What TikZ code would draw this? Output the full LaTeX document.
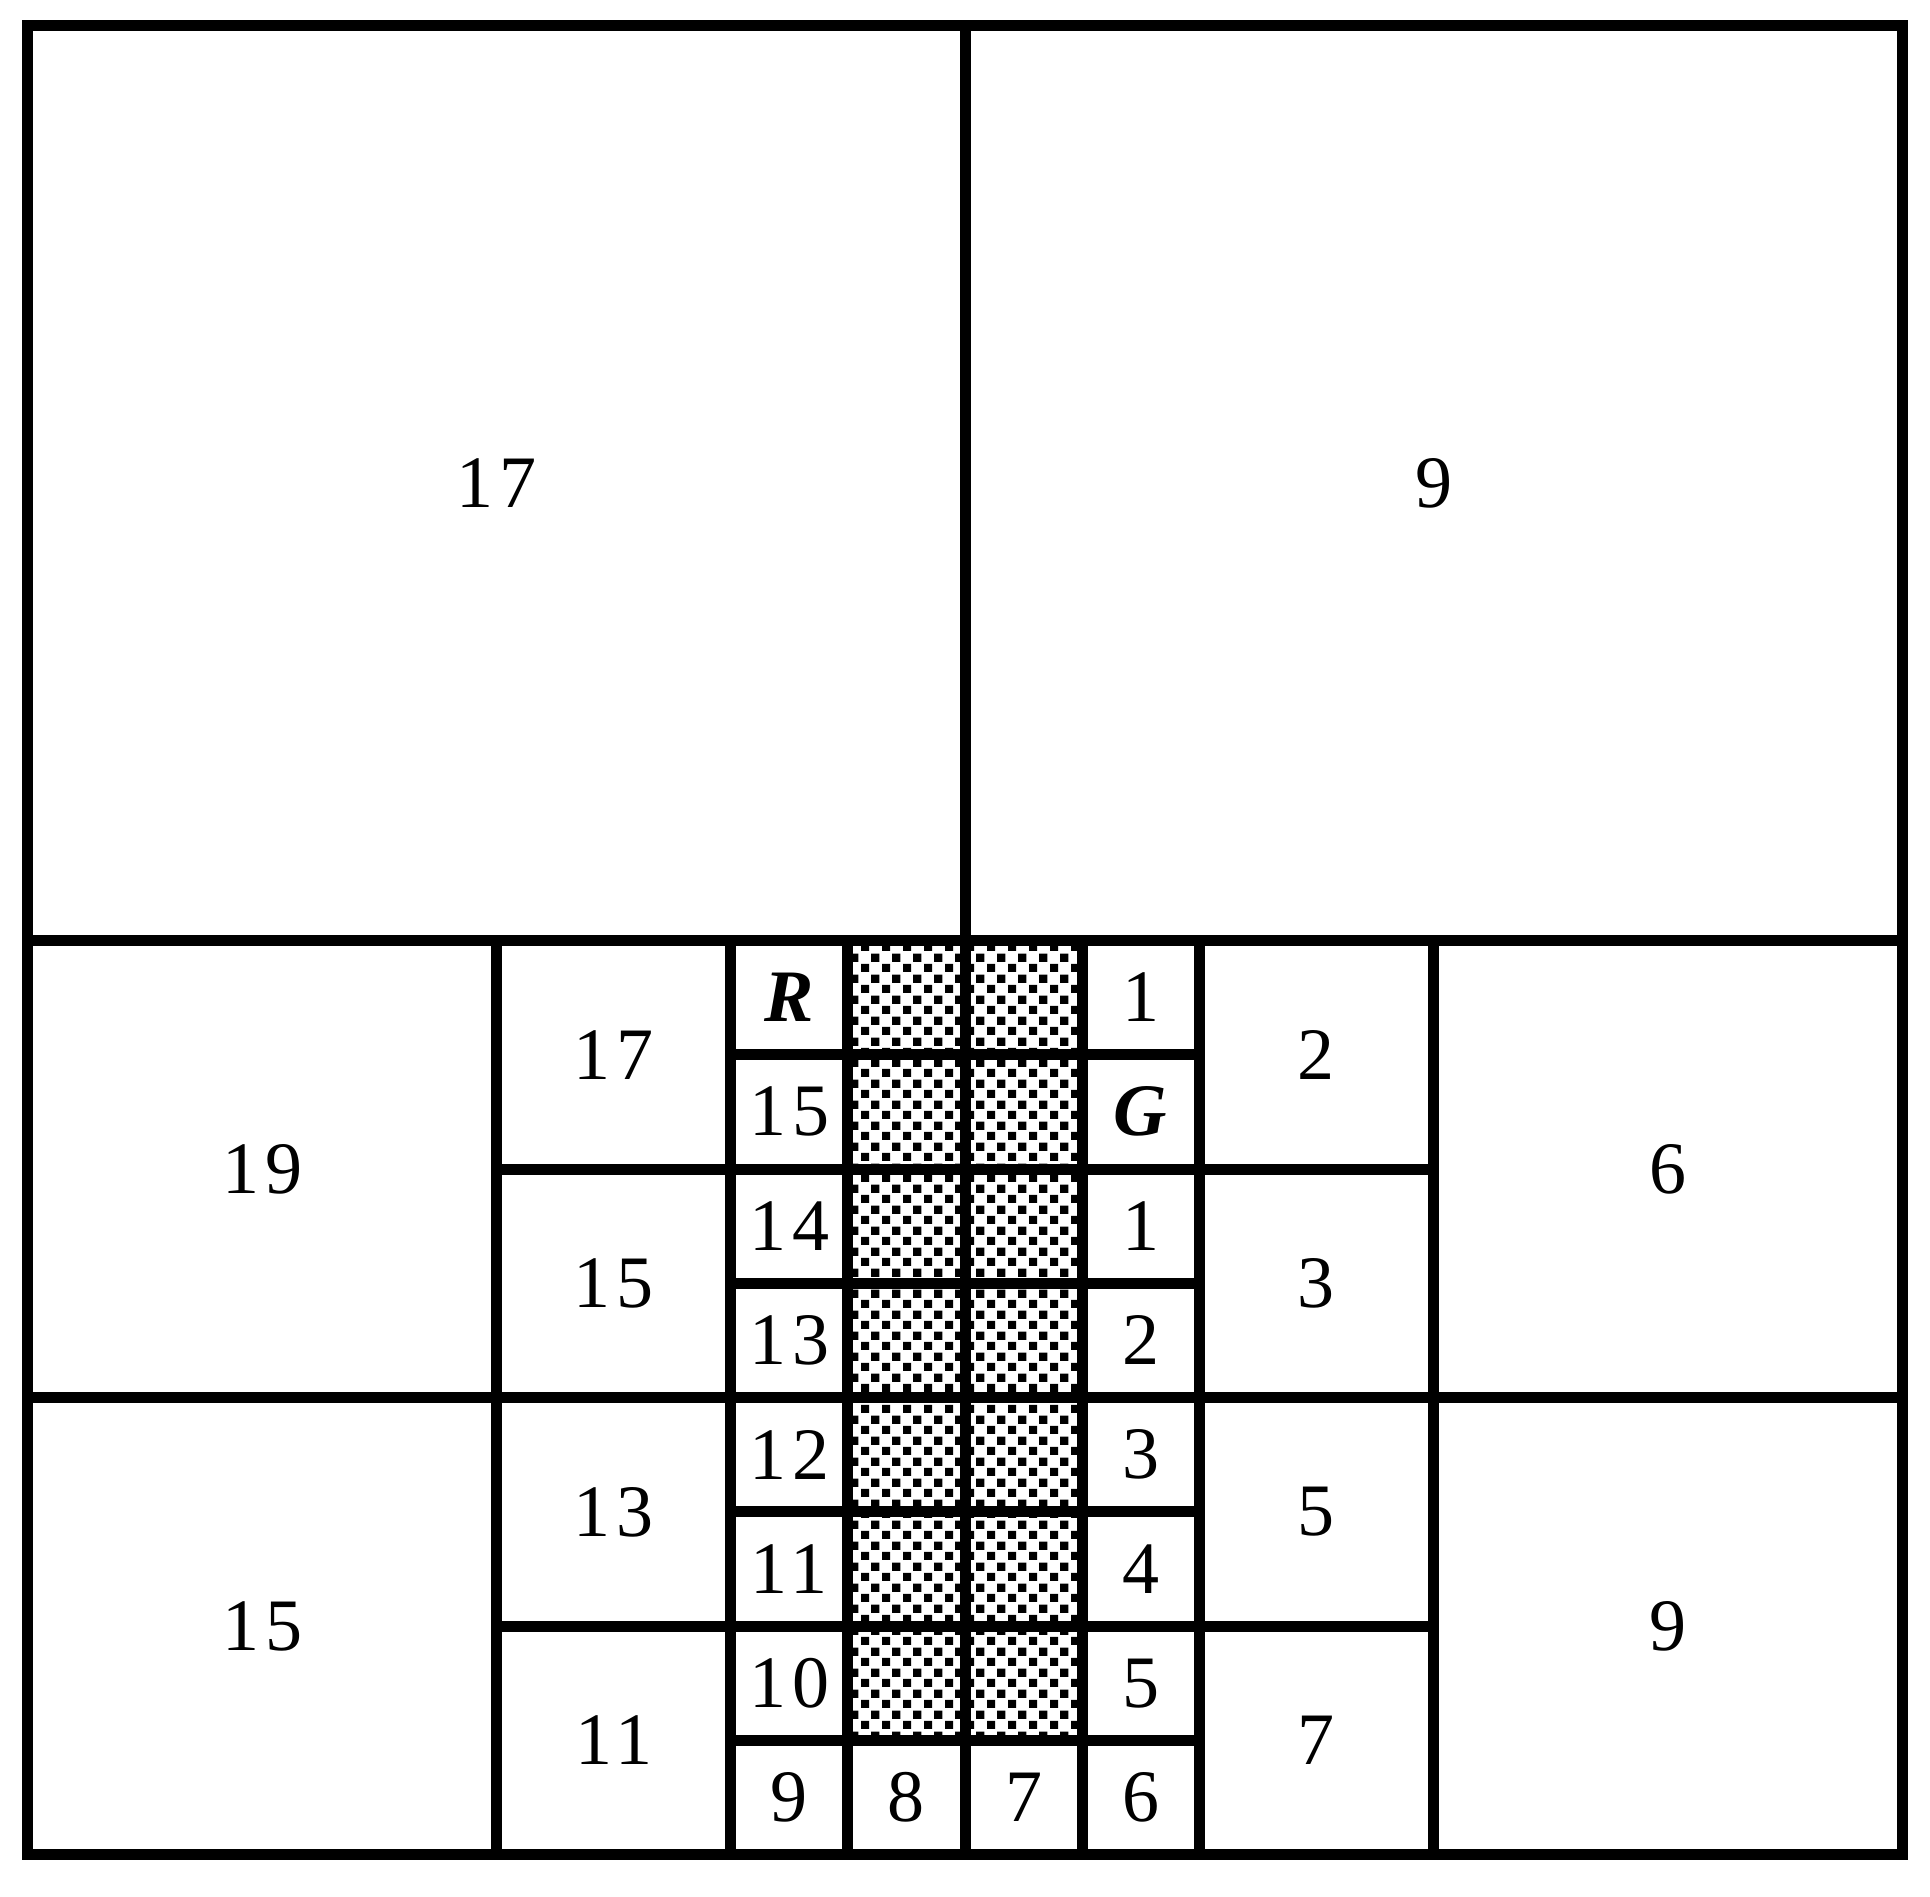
\documentclass[tikz,border=0pt]{standalone}
\usepackage{fontspec}
\setmainfont{Liberation Serif}[LetterSpace=8]
\usetikzlibrary{patterns.meta}
\tikzdeclarepattern{
  name=qdots,
  type=uncolored,
  bounding box={(0pt,0pt) and (21pt,21pt)},
  tile size={(21pt,21pt)},
  code={
    \pgfpathrectangle{\pgfpoint{0pt}{0pt}}{\pgfpoint{8.5pt}{8.5pt}}
    \pgfpathrectangle{\pgfpoint{10.5pt}{10.5pt}}{\pgfpoint{8.5pt}{8.5pt}}
    \pgfusepath{fill}
  }
}
\tikzset{
  cellbox/.style={draw=black, line width=11pt, inner sep=0pt, outer sep=0pt,
    font=\fontsize{74}{74}\selectfont, text=black},
  shadedbox/.style={cellbox, pattern=qdots, pattern color=black},
  letterbox/.style={cellbox, font=\fontsize{74}{74}\selectfont\bfseries\itshape}
}
% [style]{name}{x}{y}{w}{h}{label}  (grid units, y downward)
\newcommand\qcell[7][cellbox]{%
  \node[#1, minimum width={#5*117.125pt}, minimum height={#6*114.3pt}]
    (#2) at ({#3+#5/2},{#4+#6/2}) {#7};}
\begin{document}
\begin{tikzpicture}[x=117.125pt, y=-114.3pt]
\useasboundingbox (-0.23906,-0.22747) rectangle (16.2391,16.3605);
% shaded cells
\foreach \r in {8,...,14}{
  \qcell[shadedbox]{sa\r}{7}{\r}{1}{1}{}
  \qcell[shadedbox]{sb\r}{8}{\r}{1}{1}{}
}
% top quadrants
\qcell{top17}{0}{0}{8}{8}{17}
\qcell{top9}{8}{0}{8}{8}{9}
% left big
\qcell{left19}{0}{8}{4}{4}{19}
\qcell{left15}{0}{12}{4}{4}{15}
% second column
\qcell{c17}{4}{8}{2}{2}{17}
\qcell{c15}{4}{10}{2}{2}{15}
\qcell{c13}{4}{12}{2}{2}{13}
\qcell{c11}{4}{14}{2}{2}{11}
% R column
\qcell[letterbox]{rR}{6}{8}{1}{1}{R}
\qcell{r15}{6}{9}{1}{1}{15}
\qcell{r14}{6}{10}{1}{1}{14}
\qcell{r13}{6}{11}{1}{1}{13}
\qcell{r12}{6}{12}{1}{1}{12}
\qcell{r11}{6}{13}{1}{1}{11}
\qcell{r10}{6}{14}{1}{1}{10}
\qcell{r9}{6}{15}{1}{1}{9}
% bottom of shaded columns
\qcell{b8}{7}{15}{1}{1}{8}
\qcell{b7}{8}{15}{1}{1}{7}
% G column
\qcell{g1a}{9}{8}{1}{1}{1}
\qcell[letterbox]{gG}{9}{9}{1}{1}{G}
\qcell{g1b}{9}{10}{1}{1}{1}
\qcell{g2}{9}{11}{1}{1}{2}
\qcell{g3}{9}{12}{1}{1}{3}
\qcell{g4}{9}{13}{1}{1}{4}
\qcell{g5}{9}{14}{1}{1}{5}
\qcell{g6}{9}{15}{1}{1}{6}
% fourth column
\qcell{d2}{10}{8}{2}{2}{2}
\qcell{d3}{10}{10}{2}{2}{3}
\qcell{d5}{10}{12}{2}{2}{5}
\qcell{d7}{10}{14}{2}{2}{7}
% right big
\qcell{right6}{12}{8}{4}{4}{6}
\qcell{right9}{12}{12}{4}{4}{9}
\end{tikzpicture}
\end{document}
